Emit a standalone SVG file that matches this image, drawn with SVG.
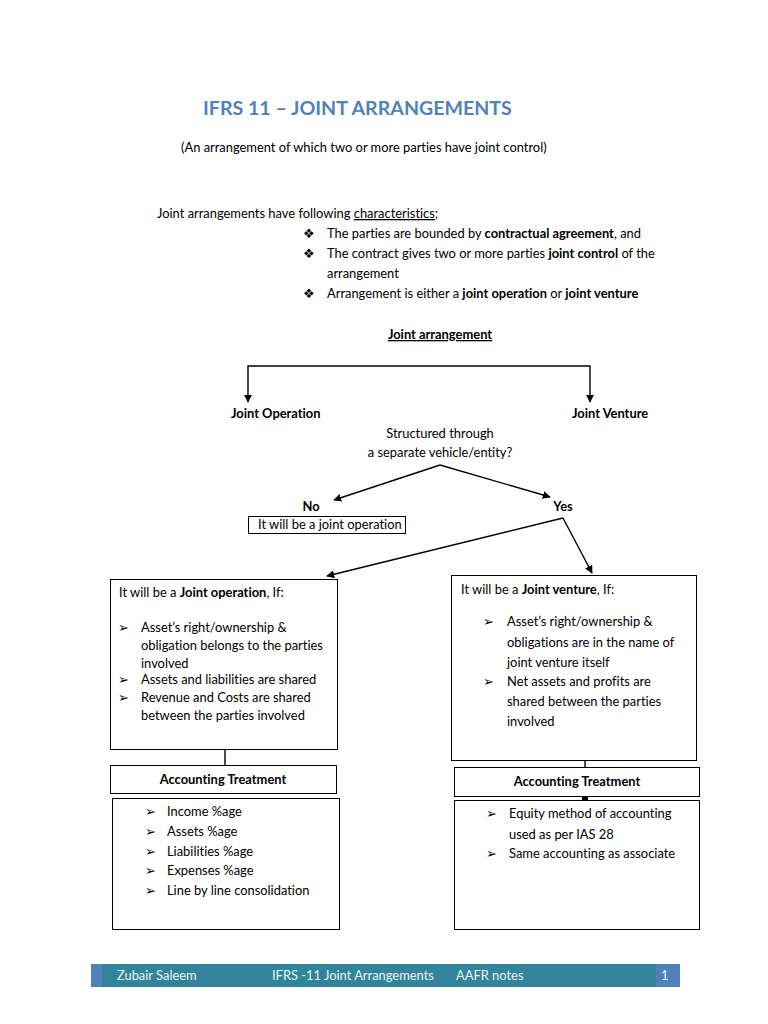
<svg xmlns="http://www.w3.org/2000/svg" width="768" height="1024" viewBox="0 0 768 1024">
<defs>
<marker id="ah" viewBox="0 0 10 10" refX="9" refY="5" markerWidth="8" markerHeight="8" markerUnits="userSpaceOnUse" orient="auto">
<path d="M0,0 L10,5 L0,10 z" fill="#000"/>
</marker>
<style>
.t{font-family:Lato,"Liberation Sans",sans-serif;font-size:12.9px;fill:#000;font-variant-ligatures:none}
.b{font-weight:bold}
.sym{font-family:"DejaVu Sans",sans-serif;font-size:13px;fill:#000}
.box{fill:#fff;stroke:#000;stroke-width:1}
.ln{fill:none;stroke:#000;stroke-width:1.4}
.ft{font-family:Lato,"Liberation Sans",sans-serif;font-size:12.9px;fill:#e8f4f8;font-variant-ligatures:none}
</style>
</defs>
<rect width="768" height="1024" fill="#fff"/>

<g id="header">
<text x="203" y="115" style="font-family:Lato,'Liberation Sans',sans-serif;font-size:19.6px;font-weight:bold;fill:#4f81bd">IFRS 11 – JOINT ARRANGEMENTS</text>
<text class="t" x="181" y="152">(An arrangement of which two or more parties have joint control)</text>
<text class="t" x="157" y="218">Joint arrangements have following <tspan text-decoration="underline">characteristics</tspan>;</text>
<text class="sym" x="303" y="238">❖</text>
<text class="t" x="327" y="238">The parties are bounded by <tspan class="b">contractual agreement</tspan>, and</text>
<text class="sym" x="303" y="258">❖</text>
<text class="t" x="327" y="258">The contract gives two or more parties <tspan class="b">joint control</tspan> of the</text>
<text class="t" x="327" y="278">arrangement</text>
<text class="sym" x="303" y="298">❖</text>
<text class="t" x="327" y="298">Arrangement is either a <tspan class="b">joint operation</tspan> or <tspan class="b">joint venture</tspan></text>
</g>

<g id="connectors">
<path class="ln" d="M419,366 L248,366 L248,402" marker-end="url(#ah)"/>
<path class="ln" d="M419,366 L590,366 L590,402" marker-end="url(#ah)"/>
<line class="ln" x1="440" y1="465" x2="334" y2="500" marker-end="url(#ah)"/>
<line class="ln" x1="440" y1="465" x2="550" y2="497" marker-end="url(#ah)"/>
<line class="ln" x1="563" y1="518" x2="327" y2="576" marker-end="url(#ah)"/>
<line class="ln" x1="563" y1="518" x2="592" y2="573" marker-end="url(#ah)"/>
<line class="ln" x1="225" y1="749" x2="225" y2="765"/>
<line class="ln" x1="585" y1="760" x2="585" y2="767"/>
<rect x="582" y="797" width="6" height="4" fill="#000"/>
</g>

<g id="joint-arrangement">
<text class="t b" x="440" y="339" text-anchor="middle" text-decoration="underline">Joint arrangement</text>
</g>
<g id="joint-operation">
<text class="t b" x="231" y="418">Joint Operation</text>
</g>
<g id="joint-venture">
<text class="t b" x="572" y="418">Joint Venture</text>
</g>
<g id="question">
<text class="t" x="440" y="438" text-anchor="middle">Structured through</text>
<text class="t" x="440" y="457" text-anchor="middle">a separate vehicle/entity?</text>
</g>
<g id="no">
<text class="t b" x="311" y="511" text-anchor="middle">No</text>
</g>
<g id="yes">
<text class="t b" x="563" y="511" text-anchor="middle">Yes</text>
</g>
<g id="no-result">
<rect class="box" x="248.5" y="516.5" width="157" height="17"/>
<text class="t" x="258" y="529">It will be a joint operation</text>
</g>

<g id="jo-box">
<rect class="box" x="110.5" y="579.5" width="227" height="170"/>
<text class="t" x="119" y="597">It will be a <tspan class="b">Joint operation</tspan>, If:</text>
<text class="sym" x="118" y="632">➢</text>
<text class="t" x="141" y="632">Asset’s right/ownership &amp;</text>
<text class="t" x="141" y="650">obligation belongs to the parties</text>
<text class="t" x="141" y="668">involved</text>
<text class="sym" x="118" y="684">➢</text>
<text class="t" x="141" y="684">Assets and liabilities are shared</text>
<text class="sym" x="118" y="702">➢</text>
<text class="t" x="141" y="702">Revenue and Costs are shared</text>
<text class="t" x="141" y="720">between the parties involved</text>
</g>

<g id="jv-box">
<rect class="box" x="451.5" y="575.5" width="245" height="185"/>
<text class="t" x="461" y="594">It will be a <tspan class="b">Joint venture</tspan>, If:</text>
<text class="sym" x="483" y="626">➢</text>
<text class="t" x="507" y="626">Asset’s right/ownership &amp;</text>
<text class="t" x="507" y="647">obligations are in the name of</text>
<text class="t" x="507" y="667">joint venture itself</text>
<text class="sym" x="483" y="686">➢</text>
<text class="t" x="507" y="686">Net assets and profits are</text>
<text class="t" x="507" y="706">shared between the parties</text>
<text class="t" x="507" y="726">involved</text>
</g>

<g id="jo-accounting">
<rect class="box" x="110.5" y="765.5" width="226" height="28"/>
<text class="t b" x="223" y="784" text-anchor="middle">Accounting Treatment</text>
</g>
<g id="jo-treatment">
<rect class="box" x="112.5" y="798.5" width="227" height="131"/>
<text class="sym" x="145" y="816">➢</text>
<text class="t" x="167" y="816">Income %age</text>
<text class="sym" x="145" y="836">➢</text>
<text class="t" x="167" y="836">Assets %age</text>
<text class="sym" x="145" y="856">➢</text>
<text class="t" x="167" y="856">Liabilities %age</text>
<text class="sym" x="145" y="875">➢</text>
<text class="t" x="167" y="875">Expenses %age</text>
<text class="sym" x="145" y="895">➢</text>
<text class="t" x="167" y="895">Line by line consolidation</text>
</g>

<g id="jv-accounting">
<rect class="box" x="454.5" y="767.5" width="245" height="29"/>
<text class="t b" x="577" y="786" text-anchor="middle">Accounting Treatment</text>
</g>
<g id="jv-treatment">
<rect class="box" x="454.5" y="800.5" width="245" height="129"/>
<text class="sym" x="486" y="818">➢</text>
<text class="t" x="509" y="818">Equity method of accounting</text>
<text class="t" x="509" y="839">used as per IAS 28</text>
<text class="sym" x="486" y="858">➢</text>
<text class="t" x="509" y="858">Same accounting as associate</text>
</g>

<g id="footer">
<rect x="91" y="964" width="12" height="23" fill="#4f81bd"/>
<rect x="102" y="964" width="554" height="23" fill="#31849b"/>
<rect x="656" y="964" width="24" height="23" fill="#4f81bd"/>
<text class="ft" x="117" y="980">Zubair Saleem</text>
<text class="ft" x="272" y="980">IFRS -11 Joint Arrangements</text>
<text class="ft" x="456" y="980">AAFR notes</text>
<text class="ft" x="661" y="980">1</text>
</g>
</svg>
